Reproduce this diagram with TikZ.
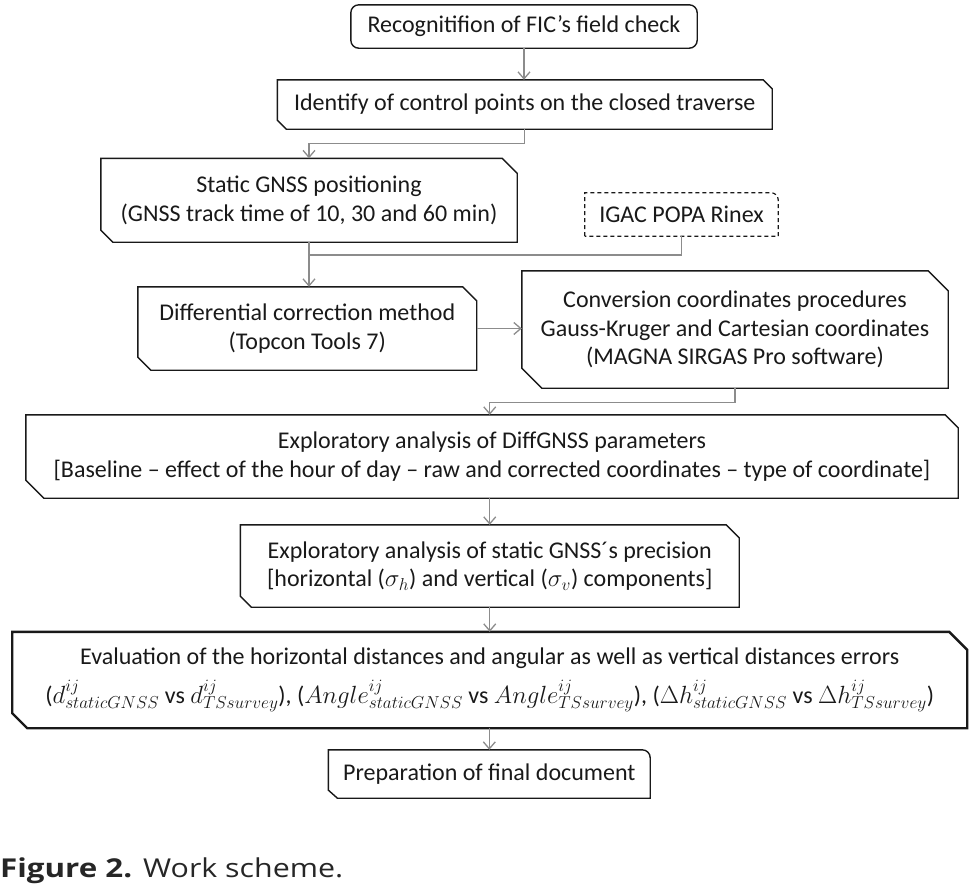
\documentclass[tikz,border=0pt]{standalone}
\usepackage{fontspec}
\usepackage{graphicx}
\setmainfont{Carlito}
\newfontfamily\capfont{Open Sans}
\usetikzlibrary{arrows.meta,calc}
\newcommand\snipbox[4][boxline]{%
  \draw[#1] (#2.north west) -- ([xshift=-#3]#2.north east) -- ([yshift=-#3]#2.north east)
    -- (#2.south east) -- ([xshift=#4]#2.south west) -- ([yshift=#4]#2.south west) -- cycle;}
\begin{document}
\begin{tikzpicture}[x=1pt,y=-1pt,
  boxline/.style={draw=black!90, line width=1.4pt, line join=miter},
  txt/.style={inner sep=0pt, align=center, font=\fontsize{24}{28.5}\selectfont, text=black!90},
  conn/.style={draw=black!45, line width=1.3pt},
  arr/.style={conn, -{Straight Barb[length=7pt,width=12pt]}}]
\useasboundingbox (0,0) rectangle (972,884);

% nodes
\node[txt, minimum width=346pt, minimum height=43pt] (rec) at (524,26.5) {Recognitifion of FIC’s field check};
\node[txt, minimum width=494.5pt, minimum height=49pt] (ident) at (524.75,104.5) {Identify of control points on the closed traverse};
\node[txt, minimum width=416pt, minimum height=83.5pt] (static) at (309,200.25) {Static GNSS positioning\\(GNSS track time of 10, 30 and 60 min)};
\node[txt, minimum width=193pt, minimum height=43pt] (igac) at (681.5,214.5) {IGAC POPA Rinex};
\node[txt, minimum width=338.5pt, minimum height=83pt] (diff) at (307.25,328.5) {Differential correction method\\(Topcon Tools 7)};
\node[txt, minimum width=426pt, minimum height=117pt] (conv) at (735,329.5) {Conversion coordinates procedures\\Gauss-Kruger and Cartesian coordinates\\(MAGNA SIRGAS Pro software)};
\node[txt, minimum width=932pt, minimum height=83pt] (explo) at (492,456.5) {Exploratory analysis of DiffGNSS parameters\\{}[Baseline – effect of the hour of day – raw and corrected coordinates – type of coordinate]};
\node[txt, minimum width=498.5pt, minimum height=82pt] (prec) at (489.75,566) {Exploratory analysis of static GNSS´s precision\\{}[horizontal ($\sigma_h$) and vertical ($\sigma_v$) components]};
\node[txt, minimum width=954.6pt, minimum height=96pt] (eval) at (489.7,680) {Evaluation of the horizontal distances and angular as well as vertical distances errors\\[10pt]($d^{ij}_{staticGNSS}$ vs $d^{ij}_{TSsurvey}$), ($Angle^{ij}_{staticGNSS}$ vs $Angle^{ij}_{TSsurvey}$), ($\Delta h^{ij}_{staticGNSS}$ vs $\Delta h^{ij}_{TSsurvey}$)};
\node[txt, minimum width=321.4pt, minimum height=48pt] (prep) at (489.3,774) {Preparation of final document};

% outlines
\draw[boxline, rounded corners=8pt] (rec.north west) rectangle (rec.south east);
\snipbox{ident}{9pt}{9pt}
\snipbox{static}{15pt}{12pt}
\snipbox{diff}{14pt}{13pt}
\snipbox{conv}{20pt}{20pt}
\snipbox{explo}{13pt}{18pt}
\snipbox{prec}{13pt}{11pt}
\snipbox[boxline, line width=2.4pt]{eval}{18pt}{15pt}
\draw[boxline] ([yshift=8pt]prep.south west) -- (prep.north west) -- ([xshift=-8pt]prep.north east)
  arc[start angle=90, end angle=0, radius=8pt] -- (prep.south east) -- ([xshift=9pt]prep.south west) -- cycle;
\draw[boxline, line width=1.2pt, dash pattern=on 4pt off 3pt] (igac.south west) -- (igac.north west) -- ([xshift=-7pt]igac.north east)
  arc[start angle=90, end angle=0, radius=7pt] -- (igac.south east) -- cycle;

% connectors
\coordinate (join) at (static.south |- 0,255);
\draw[arr] (rec.south) -- (rec.south |- ident.north);
\draw[arr] (ident.south) -- ++(0,14) -| (static.north);
\draw[arr] (static.south) -- (static.south |- diff.north);
\draw[conn] (igac.south) |- (join);
\draw[arr] (diff.east) -- (diff.east -| conv.west);
\draw[arr] (conv.south) -- ++(0,14) -| (explo.north -| prec.north);
\draw[arr] (prec.north |- explo.south) -- (prec.north);
\draw[arr] (prec.south) -- (prec.south |- eval.north);
\draw[arr] (prep.north |- eval.south) -- (prep.north);

% caption
\node[anchor=base west, inner sep=0pt, text=black!85] (fig) at (0,877) {\resizebox{132pt}{\height}{\capfont\fontsize{26}{30}\selectfont\bfseries Figure 2.}};
\node[anchor=base west, inner sep=0pt, text=black!85] (ws) at (143,877) {\resizebox{200pt}{\height}{\capfont\fontsize{26}{30}\selectfont Work scheme.}};
\end{tikzpicture}
\end{document}
